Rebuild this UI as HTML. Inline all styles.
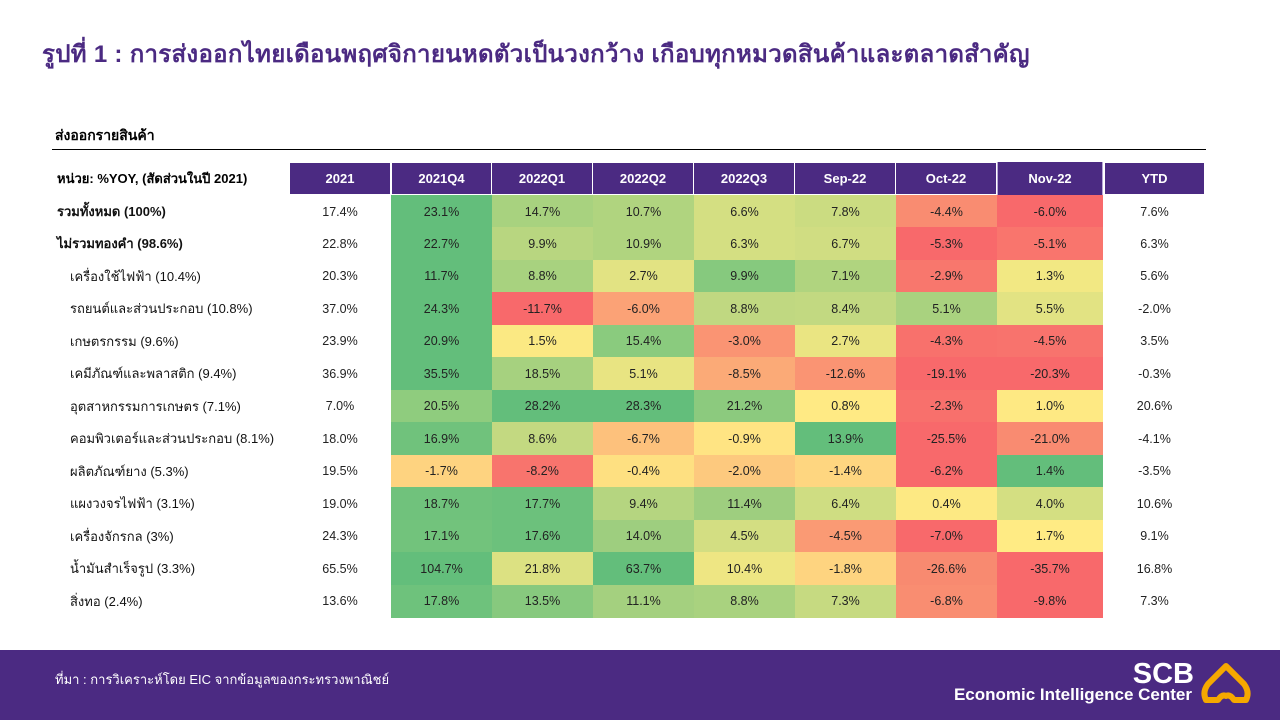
<!DOCTYPE html>
<html><head><meta charset="utf-8"><style>
body{margin:0;width:1280px;height:720px;position:relative;background:#fff;font-family:"Liberation Sans","Noto Sans CJK SC",sans-serif;overflow:hidden}
.a{position:absolute}
.title{left:42px;top:34px;font-size:24px;letter-spacing:0.3px;font-weight:bold;color:#4b2a82;white-space:nowrap}
.sub{left:55px;top:125px;font-size:14px;font-weight:bold;color:#000}
.line{left:52px;top:149px;width:1154px;height:1px;background:#000}
.h{top:163px;height:31px;background:#4b2a82;color:#fff;font-size:13px;font-weight:bold;display:flex;align-items:center;justify-content:center}
.c{height:33px;display:flex;align-items:center;justify-content:center;font-size:12.5px;color:#222}
.lab{height:33px;display:flex;align-items:center;font-size:13px;color:#111;white-space:nowrap}
.foot{left:0;top:650px;width:1280px;height:70px;background:#4b2a82}
</style></head><body>
<div class="a title">รูปที่ 1 : การส่งออกไทยเดือนพฤศจิกายนหดตัวเป็นวงกว้าง เกือบทุกหมวดสินค้าและตลาดสำคัญ</div>
<div class="a sub">ส่งออกรายสินค้า</div>
<div class="a line"></div>
<div class="a" style="left:57px;top:163px;height:31px;display:flex;align-items:center;font-size:13px;font-weight:bold">หน่วย: %YOY, (สัดส่วนในปี 2021)</div>
<div id="t"></div>
<div class="a foot"></div>
<div class="a" style="left:55px;top:669px;font-size:13px;color:#fff">ที่มา : การวิเคราะห์โดย EIC จากข้อมูลของกระทรวงพาณิชย์</div>
<div class="a" style="left:1100px;top:658px;width:94px;text-align:right;font-size:29px;font-weight:bold;color:#fff">SCB</div>
<div class="a" style="left:900px;top:685px;width:292px;text-align:right;font-size:17px;font-weight:bold;color:#fff">Economic Intelligence Center</div>
<svg class="a" style="left:1200px;top:662px" width="52" height="42" viewBox="0 0 52 42"><path d="M26 4 L44 22 Q50 30 46 38 L34 38 Q30 32 26 34 Q22 32 18 38 L6 38 Q2 30 8 22 Z" fill="none" stroke="#f5a800" stroke-width="6" stroke-linejoin="round"/></svg>
<script>
const cols=[[290,100,"2021"],[392,99,"2021Q4"],[492,100,"2022Q1"],[593,100,"2022Q2"],[694,100,"2022Q3"],[795,100,"Sep-22"],[896,100,"Oct-22"],[997,106,"Nov-22"],[1105,99,"YTD"]];
const rows=[
["รวมทั้งหมด (100%)",1,["17.4%","23.1%","14.7%","10.7%","6.6%","7.8%","-4.4%","-6.0%","7.6%"],["#63be7b","#a8d27f","#b0d47f","#d4df82","#cbdc81","#f98c71","#f8696b"]],
["ไม่รวมทองคำ (98.6%)",1,["22.8%","22.7%","9.9%","10.9%","6.3%","6.7%","-5.3%","-5.1%","6.3%"],["#63be7b","#b8d680","#b0d47f","#d4df82","#d0dd82","#f8696b","#f9756d"]],
["เครื่องใช้ไฟฟ้า (10.4%)",0,["20.3%","11.7%","8.8%","2.7%","9.9%","7.1%","-2.9%","1.3%","5.6%"],["#63be7b","#a8d27f","#e2e383","#86c97e","#b0d47f","#f8776d","#f2e883"]],
["รถยนต์และส่วนประกอบ (10.8%)",0,["37.0%","24.3%","-11.7%","-6.0%","8.8%","8.4%","5.1%","5.5%","-2.0%"],["#63be7b","#f8696b","#fba276","#c0d881","#c2d981","#a9d27f","#e2e383"]],
["เกษตรกรรม (9.6%)",0,["23.9%","20.9%","1.5%","15.4%","-3.0%","2.7%","-4.3%","-4.5%","3.5%"],["#63be7b","#fbe983","#8acb7e","#fa9473","#eae582","#f8716c","#f8736d"]],
["เคมีภัณฑ์และพลาสติก (9.4%)",0,["36.9%","35.5%","18.5%","5.1%","-8.5%","-12.6%","-19.1%","-20.3%","-0.3%"],["#63be7b","#a6d17f","#e8e482","#fbaa77","#fa9473","#f8696b","#f8696b"]],
["อุตสาหกรรมการเกษตร (7.1%)",0,["7.0%","20.5%","28.2%","28.3%","21.2%","0.8%","-2.3%","1.0%","20.6%"],["#8fcc7e","#63be7b","#63be7b","#8cca7e","#ffea84","#f8706c","#fee983"]],
["คอมพิวเตอร์และส่วนประกอบ (8.1%)",0,["18.0%","16.9%","8.6%","-6.7%","-0.9%","13.9%","-25.5%","-21.0%","-4.1%"],["#70c27c","#c3d981","#fdc17c","#ffe483","#63be7b","#f8696b","#f98b71"]],
["ผลิตภัณฑ์ยาง (5.3%)",0,["19.5%","-1.7%","-8.2%","-0.4%","-2.0%","-1.4%","-6.2%","1.4%","-3.5%"],["#fed380","#f8746d","#fee081","#fdc97e","#fed680","#f8696b","#63be7b"]],
["แผงวงจรไฟฟ้า (3.1%)",0,["19.0%","18.7%","17.7%","9.4%","11.4%","6.4%","0.4%","4.0%","10.6%"],["#70c27c","#6cc17c","#b5d580","#9ece7f","#cfdd82","#fde983","#d4df82"]],
["เครื่องจักรกล (3%)",0,["24.3%","17.1%","17.6%","14.0%","4.5%","-4.5%","-7.0%","1.7%","9.1%"],["#72c37c","#6cc17c","#9ece7f","#d3de82","#fa9a74","#f8696b","#ffeb84"]],
["น้ำมันสำเร็จรูป (3.3%)",0,["65.5%","104.7%","21.8%","63.7%","10.4%","-1.8%","-26.6%","-35.7%","16.8%"],["#63be7b","#dce182","#63be7b","#eee683","#fed480","#f88a70","#f8696b"]],
["สิ่งทอ (2.4%)",0,["13.6%","17.8%","13.5%","11.1%","8.8%","7.3%","-6.8%","-9.8%","7.3%"],["#6ec27c","#87c97e","#a4d07f","#a9d27f","#c6da81","#f98d71","#f8696b"]]];
let h="";
cols.forEach((c,i)=>{h+=`<div class="a h" style="left:${c[0]}px;width:${c[1]}px${i==7?';top:162px;height:33px;border-left:1px solid #b9a8d8;border-right:1px solid #b9a8d8;box-sizing:border-box':''}">${c[2]}</div>`});
rows.forEach((r,ri)=>{const y=195+ri*32.46;
h+=`<div class="a lab" style="left:${r[1]?57:70}px;top:${y}px;${r[1]?'font-weight:bold':''}">${r[0]}</div>`;
r[2].forEach((v,ci)=>{const c=cols[ci];let bg="";let l=c[0],w=c[1];
if(ci>=1&&ci<=7){bg="background:"+r[3][ci-1]+";";l=ci==1?391:c[0];w=ci==7?106:(cols[ci+1][0]-l);}
h+=`<div class="a c" style="left:${l}px;width:${w}px;top:${y}px;height:33px;${bg}">${v}</div>`;});});
document.getElementById("t").innerHTML=h;
</script>
</body></html>
